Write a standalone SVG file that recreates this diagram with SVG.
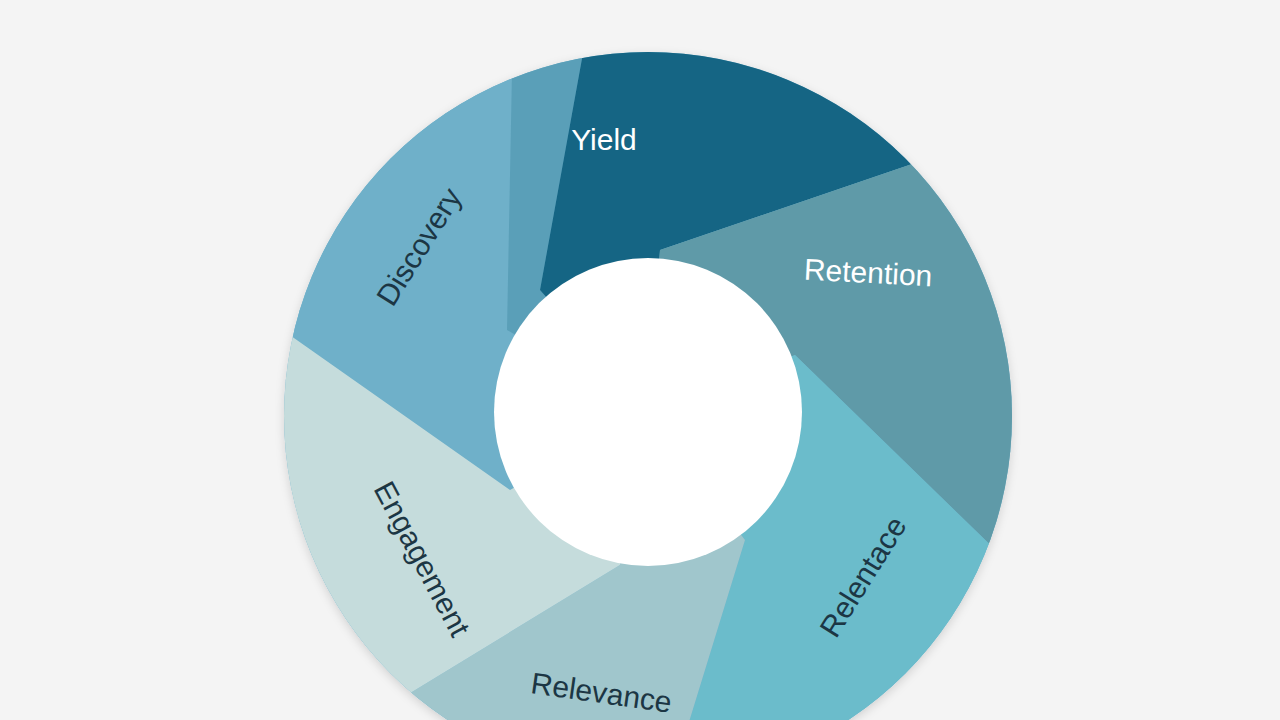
<svg xmlns="http://www.w3.org/2000/svg" width="1280" height="720" viewBox="0 0 1280 720">
<defs>
<clipPath id="ring"><circle cx="648" cy="416" r="364"/></clipPath>
<filter id="sh" x="-10%" y="-10%" width="120%" height="120%"><feDropShadow dx="0" dy="3" stdDeviation="5" flood-color="#000" flood-opacity="0.15"/></filter>
</defs>
<style>
.lbl{font-family:"Liberation Sans",Arial,sans-serif;font-size:30px;text-anchor:middle;dominant-baseline:middle}
.dk{fill:#1c3644}.wt{fill:#ffffff}
</style>
<rect width="1280" height="720" fill="#f4f4f4"/>
<circle cx="648" cy="416" r="364" fill="#6fb0c9" filter="url(#sh)"/>
<g clip-path="url(#ring)">
<g id="discovery"><polygon points="648,412 510,490 180,258 180,20 513,20 507,330" fill="#6fb0c9"/></g>
<g id="strip"><polygon points="648,412 507,330 513,20 589,20 540,290" fill="#5a9fb8"/></g>
<g id="yield"><polygon points="648,412 540,290 589,20 1050,20 1050,117 660,250" fill="#156584"/></g>
<g id="retention"><polygon points="648,412 660,250 1050,117 1050,603 795,355" fill="#5f9aa8"/></g>
<g id="relentace"><polygon points="648,412 795,355 1050,603 1050,800 665,800 745,540" fill="#6bbccb"/></g>
<g id="relevance"><polygon points="648,412 745,540 665,800 330,800 330,742 620,565" fill="#a0c6cc"/></g>
<g id="engagement"><polygon points="648,412 620,565 330,742 180,830 180,258 510,490" fill="#c5dcdc"/></g>
</g>
<circle cx="648" cy="412" r="154" fill="#ffffff"/>
<g id="connectors"></g>
<text class="lbl wt" x="604" y="142">Yield</text>
<text class="lbl wt" x="868" y="275" transform="rotate(3 868 275)">Retention</text>
<text class="lbl dk" x="421" y="248" transform="rotate(-58 421 248)">Discovery</text>
<text class="lbl dk" x="420" y="560" transform="rotate(62 420 560)">Engagement</text>
<text class="lbl dk" x="601" y="695" transform="rotate(8 601 695)">Relevance</text>
<text class="lbl dk" x="865" y="578" transform="rotate(-58 865 578)">Relentace</text>
</svg>
